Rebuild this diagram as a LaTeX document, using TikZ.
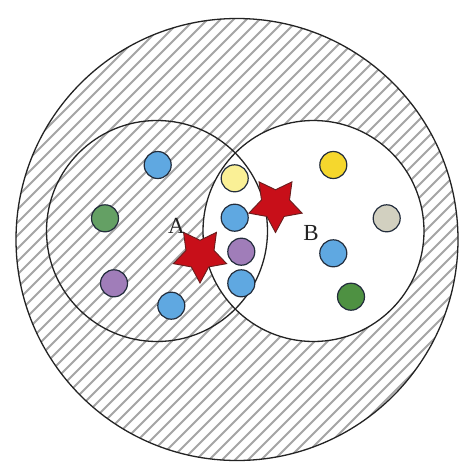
\documentclass[tikz,border=0pt]{standalone}
\usepackage{fontspec}
\setmainfont{Liberation Serif}
\usetikzlibrary{shapes.geometric}
\definecolor{cblue}{RGB}{95,168,225}
\definecolor{cgreenA}{RGB}{100,160,100}
\definecolor{cgreenB}{RGB}{78,145,66}
\definecolor{cpurple}{RGB}{160,125,185}
\definecolor{clyellow}{RGB}{250,240,150}
\definecolor{cyellow}{RGB}{245,215,45}
\definecolor{cbeige}{RGB}{210,208,192}
\definecolor{starred}{RGB}{200,15,25}
\definecolor{stardraw}{RGB}{105,30,30}
\definecolor{hatchgray}{RGB}{165,165,165}
\definecolor{ink}{RGB}{35,35,35}
\definecolor{dotline}{RGB}{35,45,60}
\tikzset{
  hatchline/.style={draw=hatchgray, line width=1.8pt},
  setcircle/.style={circle, draw=ink, line width=1.3pt, inner sep=0pt},
  dot/.style={circle, draw=dotline, line width=1.2pt, minimum size=27pt, inner sep=0pt},
  starmark/.style={star, star points=5, star point ratio=1.9, shape border rotate=180,
    minimum size=56pt, inner sep=0pt, fill=starred, draw=stardraw, line width=0.9pt},
  setlabel/.style={text=ink, inner sep=0pt, font=\fontsize{23}{23}\selectfont}
}
\begin{document}
\begin{tikzpicture}[x=1pt,y=-1pt]
\useasboundingbox (0,0) rectangle (474,474);
\fill[white] (0,0) rectangle (474,474);
\begin{scope}
  \clip (237,239.5) circle (221);
  \foreach \i in {-45,...,35} {
    \draw[hatchline] (13*\i,539) -- ++(700,-700);
  }
\end{scope}
\node[setcircle, fill=white, minimum size=221pt] (B) at (313.5,231) {};
\node[setcircle, minimum size=221pt] (A) at (157,231) {};
\node[setcircle, minimum size=442pt] (U) at (237,239.5) {};
% dots in A
\node[dot, fill=cblue] (a1) at (157.7,165) {};
\node[dot, fill=cgreenA] (a2) at (105,218.3) {};
\node[dot, fill=cpurple] (a3) at (114,283.3) {};
\node[dot, fill=cblue] (a4) at (171.3,305.7) {};
% dots in intersection
\node[dot, fill=clyellow] (c1) at (234.7,178.3) {};
\node[dot, fill=cblue] (c2) at (234.7,217.7) {};
\node[dot, fill=cpurple] (c3) at (241.3,251.7) {};
\node[dot, fill=cblue] (c4) at (241.3,283.3) {};
% dots in B
\node[dot, fill=cyellow] (b1) at (333.3,165) {};
\node[dot, fill=cbeige] (b2) at (386.7,218.3) {};
\node[dot, fill=cblue] (b3) at (333.3,253.3) {};
\node[dot, fill=cgreenB] (b4) at (351,296.7) {};
% stars
\node[starmark] (s1) at (200,255) {};
\node[starmark] (s2) at (275.5,204.5) {};
% labels
\node[setlabel] (la) at (176.5,226) {A};
\node[setlabel] (lb) at (311,233) {B};
\end{tikzpicture}
\end{document}
